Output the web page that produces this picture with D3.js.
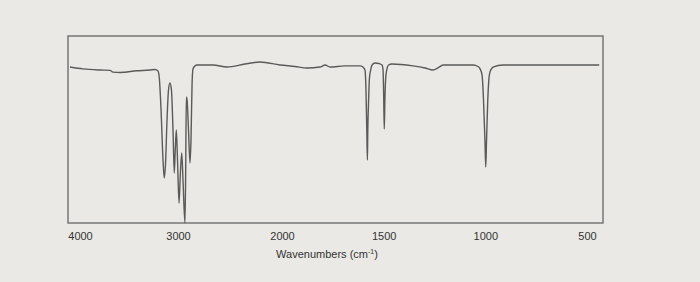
<!DOCTYPE html>
<html>
<head>
<meta charset="utf-8">
<script src="https://cdn.jsdelivr.net/npm/d3@7"></script>
<style>
  html, body { margin: 0; padding: 0; background: #eae9e5; }
  svg { display: block; }
</style>
</head>
<body>
<div id="chart"></div>
<script>
// Spectrum: wavenumber (cm-1) and % transmittance
const wavenumbers = [
  4102, 3969, 3796, 3694, 3663, 3592, 3418, 3286, 3235, 3204,
  3189, 3173, 3153, 3140, 3128, 3112, 3097, 3082, 3067, 3051,
  3038, 3028, 3017, 3005, 2990, 2978, 2964, 2952, 2933, 2926,
  2920, 2913, 2899, 2885, 2875, 2865, 2856, 2837, 2817, 2663,
  2529, 2356, 2212, 2019, 1936, 1877, 1813, 1788, 1764, 1690,
  1616, 1602, 1592, 1587, 1583, 1580, 1578, 1574, 1570, 1564,
  1557, 1543, 1523, 1508, 1503, 1500, 1497, 1494, 1490, 1485,
  1476, 1460, 1356, 1297, 1257, 1233, 1208, 1060, 1036, 1026,
  1016, 1009, 1002, 998, 994, 988, 982, 977, 969, 962,
  913, 780, 632, 440
];
const transmittance = [
  83.4, 82.4, 81.8, 81.6, 80.7, 80.5, 81.4, 81.8, 82.1, 81.3,
  76.5, 60.4, 33.7, 24.1, 31.0, 55.1, 71.1, 74.9, 71.1, 49.7,
  26.7, 39.0, 49.7, 33.7, 10.7, 25.7, 37.4, 23.0, 0.0, 28.3,
  67.4, 65.8, 49.7, 32.1, 44.4, 73.8, 82.4, 84.0, 84.5, 84.5,
  83.4, 85.0, 86.1, 84.5, 83.7, 82.9, 83.4, 84.5, 83.4, 84.0,
  84.0, 83.4, 81.8, 71.1, 49.7, 33.7, 49.7, 65.8, 77.5, 81.8,
  84.5, 85.6, 85.3, 84.5, 81.8, 68.4, 50.3, 65.8, 77.5, 81.8,
  84.5, 85.0, 84.0, 82.9, 81.8, 82.9, 84.5, 84.5, 83.7, 82.4,
  79.1, 65.8, 44.4, 29.9, 44.4, 65.8, 77.5, 80.7, 82.6, 83.4,
  84.5, 84.5, 84.5, 84.5
];
const tickValues = [4000, 3000, 2000, 1500, 1000, 500];
const tickBreaks = [4000, 3000, 2000, 500];

const width = 700;
const height = 282;
const frame = { left: 68, right: 603, top: 36, bottom: 223 };

const svg = d3.select("#chart")
  .append("svg")
  .attr("width", width)
  .attr("height", height);

// IR axis: 4000-2000 at half the scale of 2000-500
const x = d3.scaleLinear()
  .domain(tickBreaks)
  .range([80, 178, 282, 587]);

const y = d3.scaleLinear()
  .domain([0, 100])
  .range([frame.bottom, frame.top]);

const points = wavenumbers.map((w, i) => ({ w: w, t: transmittance[i] }));

// frame
svg.append("rect")
  .attr("x", frame.left)
  .attr("y", frame.top)
  .attr("width", frame.right - frame.left)
  .attr("height", frame.bottom - frame.top)
  .attr("fill", "none")
  .attr("stroke", "#6e6e6e")
  .attr("stroke-width", 1.4);

const line = d3.line()
  .x(d => x(d.w))
  .y(d => y(d.t))
  .curve(d3.curveMonotoneX);

svg.append("path")
  .datum(points)
  .attr("d", line)
  .attr("fill", "none")
  .attr("stroke", "#5a5a5a")
  .attr("stroke-width", 1.4)
  .attr("stroke-linejoin", "round");

// tick labels
const xAxis = svg.append("g")
  .attr("transform", "translate(0," + frame.bottom + ")")
  .call(d3.axisBottom(x).tickValues(tickValues).tickSize(0).tickPadding(9).tickFormat(d3.format("d")));

xAxis.select(".domain").remove();
xAxis.selectAll("text")
  .attr("fill", "#333")
  .style("font-family", "'Liberation Sans', Arial, sans-serif")
  .style("font-size", "11px");

// axis title
const title = svg.append("text")
  .attr("x", 327)
  .attr("y", 258)
  .attr("text-anchor", "middle")
  .attr("fill", "#333")
  .style("font-family", "'Liberation Sans', Arial, sans-serif")
  .style("font-size", "11px");

title.append("tspan").text("Wavenumbers (cm");
title.append("tspan")
  .attr("dy", -4)
  .style("font-size", "7px")
  .text("-1");
title.append("tspan")
  .attr("dy", 4)
  .text(")");
</script>
</body>
</html>
